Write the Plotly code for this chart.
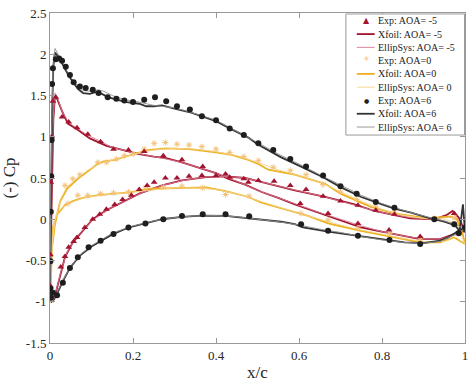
import plotly.graph_objects as go

# ---------------- data ----------------
# Experimental, AOA = -5 (both surfaces)
exp_m5_x = [0.001, 0.001, 0.002, 0.004, 0.007, 0.014, 0.029, 0.045, 0.065, 0.091, 0.122, 0.153, 0.189, 0.227,
            0.273, 0.318, 0.368, 0.423, 0.478, 0.603, 0.67, 0.742, 0.817, 0.892,
            0.014, 0.026, 0.036, 0.045, 0.057, 0.065, 0.084, 0.103, 0.12, 0.136, 0.156, 0.175, 0.196, 0.215,
            0.234, 0.251, 0.278, 0.306, 0.335, 0.366, 0.4, 0.433, 0.467, 0.502, 0.54, 0.579, 0.617, 0.658,
            0.70, 0.742, 0.785, 0.83, 0.974]
exp_m5_cp = [-0.81, -0.43, 0.45, 1.0, 1.43, 1.48, 1.24, 1.18, 1.11, 1.03, 0.94, 0.85, 0.84, 0.82,
             0.77, 0.72, 0.64, 0.55, 0.45, 0.19, 0.07, -0.05, -0.13, -0.21,
             -0.93, -0.58, -0.45, -0.34, -0.27, -0.22, -0.10, 0.0, 0.06, 0.12, 0.18, 0.24, 0.29, 0.36,
             0.41, 0.45, 0.50, 0.50, 0.52, 0.53, 0.53, 0.51, 0.49, 0.47, 0.46, 0.41, 0.36, 0.28,
             0.22, 0.17, 0.11, 0.06, 0.07]

# Experimental, AOA = 0
exp_0_x = [0.001, 0.036, 0.055, 0.072, 0.115, 0.136, 0.16, 0.179, 0.2, 0.227, 0.251, 0.278, 0.306, 0.335,
           0.366, 0.4, 0.433, 0.467, 0.502, 0.538, 0.579, 0.617, 0.658, 0.70, 0.739, 0.785, 0.83, 0.926, 0.974,
           0.043, 0.067, 0.091, 0.122, 0.153, 0.189, 0.23, 0.273, 0.318, 0.368, 0.423, 0.48, 0.605, 0.67,
           0.742, 0.818, 0.892]
exp_0_cp = [-0.98, 0.41, 0.49, 0.54, 0.69, 0.69, 0.73, 0.77, 0.79, 0.85, 0.92, 0.93, 0.91, 0.90,
            0.88, 0.85, 0.81, 0.76, 0.71, 0.63, 0.59, 0.54, 0.42, 0.33, 0.24, 0.15, 0.08, 0.01, 0.02,
            0.19, 0.29, 0.29, 0.31, 0.32, 0.33, 0.38, 0.39, 0.40, 0.38, 0.30, 0.28, 0.07, -0.01,
            -0.11, -0.17, -0.25]

# Experimental, AOA = 6
exp_6_x = [0.002, 0.001, 0.001, 0.002, 0.003, 0.004, 0.005, 0.007, 0.014, 0.022, 0.029, 0.038, 0.048, 0.057,
           0.072, 0.086, 0.103, 0.117, 0.139, 0.16, 0.179, 0.2, 0.227, 0.253, 0.28, 0.306, 0.337, 0.366,
           0.4, 0.433, 0.467, 0.502, 0.538, 0.579, 0.617, 0.658, 0.70, 0.739, 0.785, 0.83, 0.926, 0.974,
           0.007, 0.017, 0.031, 0.048, 0.067, 0.093, 0.122, 0.153, 0.189, 0.23, 0.273, 0.318, 0.368,
           0.423, 0.48, 0.605, 0.67, 0.742, 0.818, 0.892, 0.985, 1.0]
exp_6_cp = [-0.95, -0.84, -0.51, 0.09, 0.52, 0.96, 1.64, 1.83, 1.94, 1.95, 1.92, 1.85, 1.75, 1.66,
            1.61, 1.59, 1.57, 1.53, 1.48, 1.46, 1.44, 1.42, 1.45, 1.48, 1.43, 1.37, 1.33, 1.25,
            1.20, 1.10, 1.02, 0.92, 0.84, 0.73, 0.64, 0.53, 0.40, 0.31, 0.21, 0.14, 0.0, -0.06,
            -0.89, -0.92, -0.77, -0.59, -0.46, -0.34, -0.26, -0.18, -0.10, -0.05, 0.0, 0.04, 0.06,
            0.06, 0.035, -0.06, -0.14, -0.20, -0.25, -0.30, -0.17, -0.10]

# Xfoil, AOA = -5
xf_m5_up_x = [0.0, 0.007, 0.014, 0.024, 0.036, 0.055, 0.079, 0.103, 0.136, 0.175, 0.215, 0.27, 0.318, 0.376,
              0.423, 0.47, 0.51, 0.55, 0.59, 0.663, 0.734, 0.782, 0.83, 0.868, 0.926, 0.955, 0.97, 0.985, 1.0]
xf_m5_up_cp = [-0.95, -0.99, -0.89, -0.70, -0.46, -0.28, -0.14, 0.0, 0.11, 0.21, 0.31, 0.41, 0.47, 0.51,
               0.52, 0.50, 0.45, 0.40, 0.35, 0.27, 0.18, 0.10, 0.05, 0.01, 0.0, 0.05, 0.10, 0.02, -0.15]
xf_m5_lo_x = [0.0, 0.002, 0.005, 0.008, 0.012, 0.018, 0.029, 0.043, 0.065, 0.096, 0.136, 0.184, 0.215, 0.25,
              0.28, 0.318, 0.352, 0.4, 0.43, 0.47, 0.51, 0.55, 0.59, 0.63, 0.67, 0.71, 0.749, 0.79, 0.83,
              0.892, 0.94, 0.974, 0.99, 1.0]
xf_m5_lo_cp = [-0.95, -0.3, 0.6, 1.2, 1.5, 1.45, 1.31, 1.16, 1.09, 0.98, 0.89, 0.83, 0.79, 0.76,
               0.74, 0.69, 0.64, 0.56, 0.49, 0.42, 0.33, 0.26, 0.18, 0.11, 0.04, -0.03, -0.10, -0.14, -0.18,
               -0.24, -0.24, -0.18, -0.15, -0.15]

# EllipSys, AOA = -5
el_m5_up_x = [0.0, 0.007, 0.015, 0.025, 0.04, 0.06, 0.08, 0.1, 0.14, 0.18, 0.22, 0.27, 0.32, 0.37, 0.42, 0.47,
              0.52, 0.57, 0.62, 0.67, 0.72, 0.77, 0.82, 0.87, 0.92, 0.96, 0.98, 1.0]
el_m5_up_cp = [-0.95, -0.98, -0.86, -0.66, -0.41, -0.24, -0.13, -0.02, 0.12, 0.22, 0.32, 0.41, 0.47, 0.51,
               0.52, 0.50, 0.44, 0.38, 0.32, 0.26, 0.19, 0.12, 0.06, 0.02, 0.0, 0.03, 0.02, -0.15]
el_m5_lo_x = [0.0, 0.002, 0.005, 0.008, 0.012, 0.018, 0.03, 0.045, 0.065, 0.09, 0.12, 0.15, 0.2, 0.25, 0.3,
              0.35, 0.4, 0.45, 0.5, 0.55, 0.6, 0.65, 0.7, 0.75, 0.8, 0.85, 0.9, 0.94, 0.97, 1.0]
el_m5_lo_cp = [-0.95, -0.2, 0.7, 1.25, 1.53, 1.47, 1.3, 1.17, 1.1, 1.02, 0.95, 0.87, 0.81, 0.76, 0.71,
               0.64, 0.56, 0.46, 0.35, 0.26, 0.17, 0.08, 0.0, -0.08, -0.15, -0.2, -0.24, -0.24, -0.2, -0.15]

# Xfoil, AOA = 0
xf_0_up_x = [0.0, 0.005, 0.012, 0.024, 0.041, 0.067, 0.091, 0.112, 0.127, 0.156, 0.187, 0.208, 0.239, 0.28,
             0.335, 0.4, 0.438, 0.478, 0.502, 0.526, 0.59, 0.663, 0.70, 0.773, 0.83, 0.909, 0.964, 0.98,
             0.993, 1.0]
xf_0_up_cp = [-1.0, -0.34, -0.06, 0.21, 0.37, 0.49, 0.58, 0.66, 0.70, 0.72, 0.77, 0.80, 0.84, 0.86,
              0.85, 0.81, 0.78, 0.72, 0.67, 0.60, 0.54, 0.43, 0.31, 0.15, 0.07, 0.01, 0.035, 0.0,
              -0.15, -0.3]
xf_0_lo_x = [0.0, 0.003, 0.007, 0.017, 0.024, 0.036, 0.055, 0.079, 0.112, 0.156, 0.196, 0.239, 0.263, 0.328,
             0.376, 0.423, 0.455, 0.478, 0.51, 0.557, 0.59, 0.622, 0.67, 0.749, 0.83, 0.892, 0.94, 0.974, 1.0]
xf_0_lo_cp = [-1.0, -0.6, -0.1, 0.06, 0.1, 0.17, 0.22, 0.26, 0.29, 0.31, 0.33, 0.37, 0.375, 0.38,
              0.385, 0.34, 0.30, 0.27, 0.20, 0.13, 0.08, 0.04, -0.05, -0.14, -0.22, -0.28, -0.28, -0.22, -0.3]

# EllipSys, AOA = 0
el_0_up_x = [0.0, 0.005, 0.012, 0.025, 0.04, 0.065, 0.09, 0.11, 0.13, 0.16, 0.19, 0.22, 0.25, 0.3, 0.35, 0.4,
             0.45, 0.5, 0.55, 0.6, 0.65, 0.7, 0.75, 0.8, 0.85, 0.9, 0.95, 0.98, 1.0]
el_0_up_cp = [-1.0, -0.3, -0.02, 0.24, 0.39, 0.5, 0.59, 0.65, 0.69, 0.73, 0.77, 0.81, 0.84, 0.86, 0.85, 0.82,
              0.77, 0.69, 0.6, 0.53, 0.45, 0.34, 0.22, 0.12, 0.05, 0.01, 0.0, -0.05, -0.3]
el_0_lo_x = [0.0, 0.003, 0.008, 0.018, 0.03, 0.05, 0.08, 0.12, 0.16, 0.2, 0.25, 0.3, 0.35, 0.4, 0.45, 0.5,
             0.55, 0.6, 0.65, 0.7, 0.75, 0.8, 0.85, 0.9, 0.95, 0.98, 1.0]
el_0_lo_cp = [-1.0, -0.55, -0.05, 0.08, 0.14, 0.2, 0.26, 0.29, 0.31, 0.33, 0.36, 0.38, 0.38, 0.36, 0.31, 0.23,
              0.15, 0.07, 0.0, -0.07, -0.13, -0.18, -0.23, -0.27, -0.27, -0.22, -0.3]

# Xfoil, AOA = 6
xf_6_up_x = [0.0, 0.002, 0.005, 0.008, 0.012, 0.02, 0.03, 0.045, 0.055, 0.067, 0.08, 0.096, 0.11, 0.125, 0.14,
             0.16, 0.185, 0.215, 0.232, 0.25, 0.27, 0.3, 0.335, 0.37, 0.4, 0.438, 0.478, 0.5, 0.557, 0.6,
             0.658, 0.7, 0.75, 0.8, 0.83, 0.87, 0.91, 0.95, 0.975, 0.987, 0.995, 1.0]
xf_6_up_cp = [-0.95, 0.3, 1.3, 1.85, 2.02, 1.97, 1.88, 1.74, 1.67, 1.58, 1.53, 1.52, 1.54, 1.52, 1.48,
              1.45, 1.42, 1.40, 1.37, 1.37, 1.38, 1.34, 1.30, 1.24, 1.19, 1.09, 0.99, 0.91, 0.75, 0.65,
              0.51, 0.39, 0.27, 0.18, 0.13, 0.08, 0.02, -0.03, -0.07, -0.14, 0.18, -0.15]
xf_6_lo_x = [0.0, 0.004, 0.01, 0.02, 0.029, 0.048, 0.072, 0.1, 0.12, 0.151, 0.19, 0.232, 0.27, 0.318, 0.366,
             0.423, 0.455, 0.5, 0.557, 0.59, 0.61, 0.67, 0.742, 0.8, 0.854, 0.9, 0.94, 0.96, 0.98, 0.99, 1.0]
xf_6_lo_cp = [-0.95, -1.0, -0.97, -0.87, -0.77, -0.59, -0.44, -0.33, -0.27, -0.18, -0.10, -0.05, 0.0, 0.03,
              0.045, 0.04, 0.025, 0.0, -0.03, -0.06, -0.10, -0.15, -0.20, -0.24, -0.28, -0.29, -0.26, -0.22,
              -0.15, -0.12, -0.15]

# EllipSys, AOA = 6
el_6_up_x = [0.0, 0.002, 0.005, 0.008, 0.012, 0.02, 0.03, 0.045, 0.06, 0.08, 0.1, 0.115, 0.13, 0.15, 0.18,
             0.215, 0.25, 0.3, 0.35, 0.4, 0.45, 0.5, 0.55, 0.6, 0.65, 0.7, 0.75, 0.8, 0.85, 0.9, 0.95, 0.98, 1.0]
el_6_up_cp = [-0.95, 0.4, 1.4, 1.9, 2.07, 2.0, 1.9, 1.76, 1.65, 1.56, 1.55, 1.57, 1.55, 1.5, 1.45,
              1.42, 1.38, 1.35, 1.28, 1.2, 1.07, 0.93, 0.79, 0.67, 0.54, 0.41, 0.29, 0.19, 0.11, 0.04,
              -0.02, -0.07, -0.12]
el_6_lo_x = [0.0, 0.004, 0.01, 0.02, 0.03, 0.05, 0.075, 0.1, 0.15, 0.2, 0.25, 0.3, 0.35, 0.4, 0.45, 0.5, 0.55,
             0.6, 0.65, 0.7, 0.75, 0.8, 0.85, 0.9, 0.94, 0.97, 1.0]
el_6_lo_cp = [-0.95, -1.0, -0.96, -0.86, -0.75, -0.57, -0.42, -0.32, -0.17, -0.08, -0.02, 0.02, 0.04, 0.045,
              0.03, 0.0, -0.03, -0.07, -0.12, -0.16, -0.21, -0.25, -0.28, -0.29, -0.27, -0.2, -0.12]

x_ticks = [0, 0.2, 0.4, 0.6, 0.8, 1]
x_tick_labels = ["0", "0.2", "0.4", "0.6", "0.8", "1"]
y_ticks = [-1.5, -1, -0.5, 0, 0.5, 1, 1.5, 2, 2.5]
y_tick_labels = ["-1.5", "-1", "-0.5", "0", "0.5", "1", "1.5", "2", "2.5"]

legend_labels = ["Exp: AOA= -5", "Xfoil: AOA= -5", "EllipSys: AOA= -5",
                 "Exp: AOA=0", "Xfoil: AOA=0", "EllipSys: AOA= 0",
                 "Exp: AOA=6", "Xfoil: AOA=6", "EllipSys: AOA= 6"]

# ---------------- styles ----------------
CRIMSON = "#A2142F"
PINK = "#D6798F"
ORANGE = "#EDB120"
PALE = "#F4D58C"
STAR = "#F3C27A"
DARK = "#333333"
GRAY = "#8E8E8E"
DOT = "#1E1E1E"
FONT = "Liberation Serif"


def loop(up_x, up_cp, lo_x, lo_cp):
    return list(reversed(up_x)) + list(lo_x), list(reversed(up_cp)) + list(lo_cp)


fig = go.Figure()

line_specs = [
    (xf_m5_up_x, xf_m5_up_cp, xf_m5_lo_x, xf_m5_lo_cp, CRIMSON, 1.8),
    (el_m5_up_x, el_m5_up_cp, el_m5_lo_x, el_m5_lo_cp, PINK, 0.9),
    (xf_0_up_x, xf_0_up_cp, xf_0_lo_x, xf_0_lo_cp, ORANGE, 1.8),
    (el_0_up_x, el_0_up_cp, el_0_lo_x, el_0_lo_cp, PALE, 0.9),
    (xf_6_up_x, xf_6_up_cp, xf_6_lo_x, xf_6_lo_cp, DARK, 1.8),
    (el_6_up_x, el_6_up_cp, el_6_lo_x, el_6_lo_cp, GRAY, 0.9),
]
for ux, uc, lx, lc, col, w in line_specs:
    xs, ys = loop(ux, uc, lx, lc)
    fig.add_trace(go.Scatter(x=xs, y=ys, mode="lines", line=dict(color=col, width=w),
                             showlegend=False, hoverinfo="skip"))

fig.add_trace(go.Scatter(x=exp_0_x, y=exp_0_cp, mode="markers", showlegend=False,
                         marker=dict(symbol="asterisk-open", size=5, color=STAR,
                                     line=dict(color=STAR, width=1))))
fig.add_trace(go.Scatter(x=exp_m5_x, y=exp_m5_cp, mode="markers", showlegend=False,
                         marker=dict(symbol="triangle-up", size=6, color=CRIMSON)))
fig.add_trace(go.Scatter(x=exp_6_x, y=exp_6_cp, mode="markers", showlegend=False,
                         marker=dict(symbol="circle", size=6, color=DOT)))

# ---------------- hand-drawn legend box (layout decoration) ----------------
W_L, W_R, W_T, W_B = 50, 468, 7, 345   # plot area in pixels


def px(p):
    return (p - W_L) / (W_R - W_L)


def py(p):
    return (W_B - p) / (W_B - W_T)


shapes = [dict(type="rect", xref="paper", yref="paper", x0=px(348), x1=px(467.5), y0=py(132), y1=py(8),
               line=dict(color="#9a9a9a", width=1), fillcolor="white", layer="above")]
annotations = []
row_y = [15 + 13.6 * i for i in range(9)]
kinds = [("m", "▲", CRIMSON, 8), ("l", CRIMSON, 1.8), ("l", PINK, 0.9),
         ("m", "*", STAR, 10), ("l", ORANGE, 1.8), ("l", PALE, 0.9),
         ("m", "●", DOT, 6), ("l", DARK, 1.8), ("l", GRAY, 0.9)]
for yy, lab, k in zip(row_y, legend_labels, kinds):
    if k[0] == "l":
        shapes.append(dict(type="line", xref="paper", yref="paper", x0=px(359), x1=px(377),
                           y0=py(yy), y1=py(yy), line=dict(color=k[1], width=k[2]), layer="above"))
    else:
        annotations.append(dict(xref="paper", yref="paper", x=px(369), y=py(yy), text=k[1], showarrow=False,
                                font=dict(family="DejaVu Sans", size=k[3], color=k[2]),
                                xanchor="center", yanchor="middle"))
    annotations.append(dict(xref="paper", yref="paper", x=px(378), y=py(yy), text=lab, showarrow=False,
                            font=dict(family=FONT, size=10, color="#1a1a1a"),
                            xanchor="left", yanchor="middle"))

axis_common = dict(showline=True, linecolor="#999999", linewidth=1, mirror="ticks", ticks="inside",
                   ticklen=5, tickcolor="#999999", showgrid=False, zeroline=False,
                   ticklabeloverflow="allow",
                   tickfont=dict(family=FONT, size=13, color="#262626"))

fig.update_layout(
    width=474, height=384,
    margin=dict(l=W_L, r=474 - W_R, t=W_T, b=384 - W_B),
    paper_bgcolor="white", plot_bgcolor="white",
    showlegend=False,
    xaxis=dict(range=[0, 1], tickvals=x_ticks, ticktext=x_tick_labels,
               title=dict(text="x/c", font=dict(family=FONT, size=17, color="#262626"), standoff=4),
               **axis_common),
    yaxis=dict(range=[-1.5, 2.5], tickvals=y_ticks, ticktext=y_tick_labels,
               title=dict(text="(-) Cp", font=dict(family=FONT, size=17, color="#262626"), standoff=8),
               **axis_common),
    shapes=shapes,
    annotations=annotations,
)

fig.write_html("out.html", config={"displayModeBar": False},
               post_script="document.body.style.margin='0';document.body.style.overflow='hidden';")
